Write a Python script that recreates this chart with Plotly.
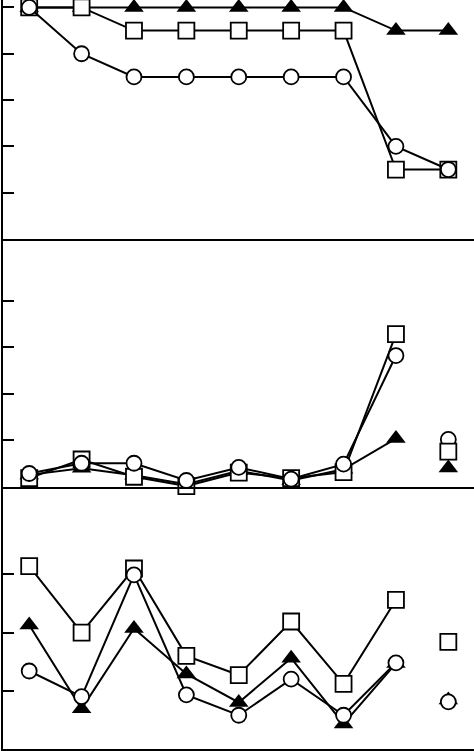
import plotly.graph_objects as go
from plotly.subplots import make_subplots

# time points (9 sampling points, last column holds the key symbols)
x_pts = [0, 1, 2, 3, 4, 5, 6, 7, 8]
x_mid = [0, 1, 2, 3, 4, 5, 6, 7]
key_x = [8]

# top panel: survival (%)
top_tri = [100, 100, 100, 100, 100, 100, 100, 90, 90]
top_sq = [100, 100, 90, 90, 90, 90, 90, 30, 30]
top_circ = [100, 80, 70, 70, 70, 70, 70, 40, 30]

# middle panel
mid_sq = [0.19, 0.59, 0.22, 0.02, 0.31, 0.19, 0.32, 3.28]
mid_circ = [0.29, 0.51, 0.51, 0.14, 0.42, 0.17, 0.49, 2.82]
mid_tri = [0.26, 0.40, 0.25, 0.06, 0.35, 0.14, 0.38, 1.04]
mid_key_circ = [1.02]
mid_key_sq = [0.76]
mid_key_tri = [0.41]

# bottom panel
bot_sq = [3.14, 2.00, 3.10, 1.60, 1.27, 2.19, 1.12, 2.56]
bot_circ = [1.34, 0.90, 2.99, 0.93, 0.58, 1.20, 0.58, 1.48]
bot_tri = [2.13, 0.69, 2.07, 1.29, 0.80, 1.56, 0.43, 1.47]
bot_key_sq = [1.84]
bot_key_tri = [0.84]
bot_key_circ = [0.81]

fig = make_subplots(rows=3, cols=1, shared_xaxes=True, vertical_spacing=0)

line = dict(color='black', width=2)
tri = dict(symbol='triangle-up', size=17, color='black')
sq = dict(symbol='square', size=16, color='white', line=dict(color='black', width=1.8))
circ = dict(symbol='circle', size=15, color='white', line=dict(color='black', width=1.8))


def add(x, y, marker, row, mode='lines+markers'):
    fig.add_trace(go.Scatter(x=x, y=y, mode=mode, line=line, marker=marker,
                             cliponaxis=False, showlegend=False), row=row, col=1)


add(x_pts, top_tri, tri, 1)
add(x_pts, top_sq, sq, 1)
add(x_pts, top_circ, circ, 1)

add(x_mid, mid_tri, tri, 2)
add(x_mid, mid_sq, sq, 2)
add(x_mid, mid_circ, circ, 2)
add(key_x, mid_key_circ, circ, 2, 'markers')
add(key_x, mid_key_sq, sq, 2, 'markers')
add(key_x, mid_key_tri, tri, 2, 'markers')

add(x_mid, bot_tri, tri, 3)
add(x_mid, bot_sq, sq, 3)
add(x_mid, bot_circ, circ, 3)
add(key_x, bot_key_sq, sq, 3, 'markers')
add(key_x, bot_key_tri, tri, 3, 'markers')
add(key_x, bot_key_circ, circ, 3, 'markers')

fig.update_xaxes(range=[-0.5, 8.49], showgrid=False, zeroline=False, showticklabels=False,
                 showline=True, linecolor='black', linewidth=2, ticks='')

fig.update_yaxes(showgrid=False, zeroline=False, showticklabels=False, showline=True,
                 linecolor='black', linewidth=2, ticks='inside', ticklen=11,
                 tickwidth=1.5, tickcolor='black')
fig.update_yaxes(range=[0, 103.2], tickvals=[20, 40, 60, 80, 100], row=1, col=1)
fig.update_yaxes(range=[0, 5.32], tickvals=[1, 2, 3, 4], row=2, col=1)
fig.update_yaxes(range=[0, 4.5], tickvals=[1, 2, 3], row=3, col=1)

fig.update_layout(
    width=474, height=751,
    margin=dict(l=3, r=0, t=0, b=2),
    plot_bgcolor='white', paper_bgcolor='white',
    yaxis=dict(domain=[0.6809, 1]),
    yaxis2=dict(domain=[0.3498, 0.6809]),
    yaxis3=dict(domain=[0, 0.3498]),
)

# drop the browser's default page margin so the figure sits at the window corner
fig.write_html("out.html", config={'displayModeBar': False},
               post_script="document.body.style.margin='0';")
